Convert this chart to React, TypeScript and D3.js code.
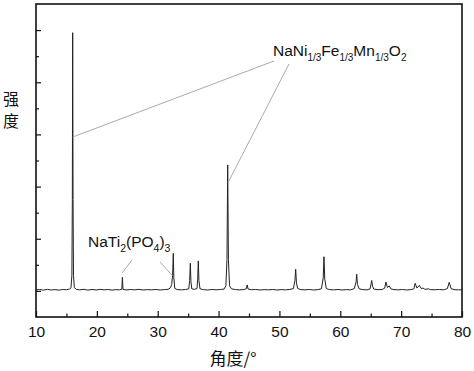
import * as d3 from "d3";
import { useEffect, useRef } from "react";

// XRD scan, 2θ (degrees) and intensity (a.u.)
const angles = [
  10.0, 10.6, 11.2, 11.9, 12.5, 13.1, 13.8, 14.4, 15.0, 15.5, 15.75, 15.9, 15.97, 16.03, 16.09, 16.16, 16.3, 16.6,
  17.2, 17.9, 18.5, 19.2, 19.9, 20.5, 21.2, 21.8, 22.5, 23.1, 23.7, 24.1, 24.2, 24.3, 24.8, 25.5, 26.2, 26.9,
  27.6, 28.3, 29.0, 29.7, 30.4, 31.1, 31.7, 32.1, 32.3, 32.45, 32.56, 32.65, 32.8, 33.2, 33.9, 34.6, 35.1, 35.25,
  35.36, 35.46, 35.6, 36.0, 36.45, 36.57, 36.67, 36.77, 36.95, 37.5, 38.2, 38.9, 39.6, 40.3, 40.9, 41.2, 41.38, 41.5,
  41.62, 41.8, 42.1, 42.8, 43.5, 44.2, 44.55, 44.7, 44.85, 45.4, 46.1, 46.8, 47.5, 48.2, 48.9, 49.6, 50.3, 51.0,
  51.7, 52.3, 52.55, 52.67, 52.8, 53.0, 53.5, 54.2, 54.9, 55.6, 56.3, 56.9, 57.2, 57.32, 57.45, 57.7, 58.2, 58.9,
  59.6, 60.3, 61.0, 61.7, 62.3, 62.6, 62.7, 62.82, 63.1, 63.7, 64.4, 64.9, 65.05, 65.16, 65.3, 65.5, 66.2, 66.9,
  67.3, 67.5, 67.75, 68.05, 68.3, 68.8, 69.5, 70.2, 70.9, 71.6, 72.1, 72.3, 72.6, 73.0, 73.3, 73.6, 73.9, 74.5,
  74.8, 75.6, 76.3, 77.0, 77.6, 77.9, 78.2, 78.7, 79.4, 80.0
];
const counts = [
  40, 55, 30, 60, 35, 50, 30, 55, 45, 70, 120, 600, 3500, 9900, 3500, 600, 130, 60,
  40, 60, 30, 55, 35, 60, 40, 55, 30, 50, 40, 60, 520, 60, 35, 55, 40, 60,
  35, 50, 40, 55, 35, 50, 60, 120, 250, 600, 1440, 500, 100, 50, 40, 55, 80, 400,
  1060, 350, 80, 60, 90, 450, 1150, 400, 80, 50, 35, 55, 40, 55, 70, 200, 1200, 4830,
  1200, 200, 80, 50, 40, 55, 80, 230, 70, 45, 55, 35, 50, 40, 55, 35, 50, 40,
  55, 90, 400, 830, 300, 90, 50, 40, 55, 35, 50, 80, 500, 1310, 450, 90, 50, 40,
  55, 35, 50, 40, 90, 350, 640, 250, 80, 50, 40, 80, 260, 400, 180, 70, 45, 55,
  110, 340, 130, 190, 80, 50, 40, 55, 35, 50, 80, 290, 110, 215, 90, 110, 60, 80,
  50, 45, 55, 40, 90, 330, 90, 50, 40, 45
];

const xMajorTicks = [10, 20, 30, 40, 50, 60, 70, 80];
const xMinorTicks = [15, 25, 35, 45, 55, 65, 75];
const yMajorTicks = [0, 2000, 4000, 6000, 8000, 10000];
const yMinorTicks = [1000, 3000, 5000, 7000, 9000];

const phaseMain = ["NaNi", "1/3", "Fe", "1/3", "Mn", "1/3", "O", "2"];
const phaseImpurity = ["NaTi", "2", "(PO", "4", ")", "3"];

function XrdChart() {
  const ref = useRef<SVGSVGElement>(null);

  useEffect(() => {
    const svg = d3.select(ref.current);
    svg.selectAll("*").remove();

    const left = 36, right = 462, top = 4, bottom = 317;

    const x = d3.scaleLinear().domain([10, 80]).range([left, right]);
    const y = d3.scaleLinear().domain([-1000, 11000]).range([bottom, top]);

    const font = "'Liberation Sans', Arial, sans-serif";

    // axes, ticks pointing inward
    const xAxis = svg.append("g").attr("transform", `translate(0,${bottom})`)
      .call(d3.axisBottom(x).tickValues(xMajorTicks).tickSize(-6).tickPadding(9).tickFormat(d3.format("d")));
    svg.append("g").attr("transform", `translate(0,${bottom})`)
      .call(d3.axisBottom(x).tickValues(xMinorTicks).tickSize(-3.5).tickFormat(() => ""));
    svg.append("g").attr("transform", `translate(${left},0)`)
      .call(d3.axisLeft(y).tickValues(yMajorTicks).tickSize(-5).tickFormat(() => ""));
    svg.append("g").attr("transform", `translate(${left},0)`)
      .call(d3.axisLeft(y).tickValues(yMinorTicks).tickSize(-3).tickFormat(() => ""));

    svg.selectAll(".domain").remove();
    svg.selectAll(".tick line").attr("stroke", "#111").attr("stroke-width", 1.2);
    xAxis.selectAll("text")
      .attr("font-family", font)
      .attr("font-size", 15.5)
      .attr("fill", "#111");

    // pattern
    const line = d3.line<number>()
      .x((_, i) => x(angles[i]))
      .y(d => y(d));

    svg.append("path")
      .datum(counts)
      .attr("d", line)
      .attr("fill", "none")
      .attr("stroke", "#222")
      .attr("stroke-width", 1)
      .attr("stroke-linejoin", "round");

    // frame
    svg.append("rect")
      .attr("x", left).attr("y", top)
      .attr("width", right - left).attr("height", bottom - top)
      .attr("fill", "none")
      .attr("stroke", "#111")
      .attr("stroke-width", 1.6);

    // leader lines
    const leaders = svg.append("g").attr("stroke", "#aaa").attr("stroke-width", 1);
    leaders.append("line").attr("x1", 274).attr("y1", 61).attr("x2", x(16.03)).attr("y2", y(5900));
    leaders.append("line").attr("x1", 289).attr("y1", 64).attr("x2", x(41.55)).attr("y2", y(4150));
    leaders.append("line").attr("x1", 132).attr("y1", 260).attr("x2", x(24.2) - 0.5).attr("y2", y(680));
    leaders.append("line").attr("x1", 160).attr("y1", 262).attr("x2", x(32.35)).attr("y2", y(600));

    const formula = (parts: string[], tx: number, ty: number, size: number, subSize: number) => {
      const t = svg.append("text")
        .attr("x", tx).attr("y", ty)
        .attr("font-family", font)
        .attr("font-size", size)
        .attr("fill", "#111");
      parts.forEach((p, i) => {
        const sub = i % 2 === 1;
        t.append("tspan")
          .attr("dy", i === 0 ? 0 : sub ? 4.5 : -4.5)
          .attr("font-size", sub ? subSize : size)
          .text(p);
      });
    };
    formula(phaseMain, 273, 56, 15.5, 10);
    formula(phaseImpurity, 88, 247, 15.5, 10.5);

    // axis titles
    const cjk = "'Noto Sans CJK SC', sans-serif";
    svg.append("text")
      .attr("x", 233).attr("y", 365)
      .attr("text-anchor", "middle")
      .attr("font-family", cjk)
      .attr("font-size", 17)
      .attr("fill", "#111")
      .text("角度/°");
    ["强", "度"].forEach((c, i) => {
      svg.append("text")
        .attr("x", 11).attr("y", 105 + i * 22)
        .attr("text-anchor", "middle")
        .attr("font-family", cjk)
        .attr("font-size", 16)
        .attr("fill", "#111")
        .text(c);
    });
  }, []);

  return (
    <svg ref={ref} width={474} height={371}
      style={{ position: "absolute", left: 0, top: 0, background: "#fff" }} />
  );
}

export default function App() {
  return <XrdChart />;
}
